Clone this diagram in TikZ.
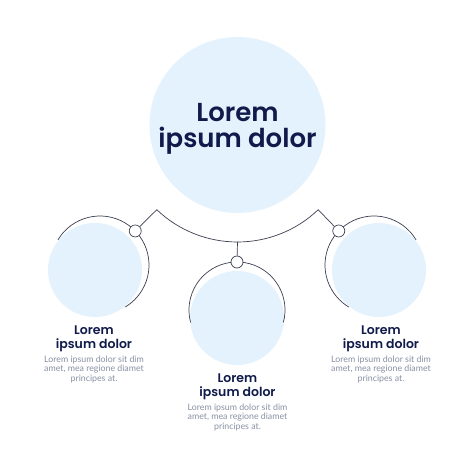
\documentclass[tikz,border=0pt]{standalone}
\usepackage{fontspec}
\setmainfont{Lato}
\newfontfamily\headfont{Poppins}[BoldFont={Poppins SemiBold}]
\definecolor{lightblue}{RGB}{228,242,253}
\definecolor{navy}{RGB}{16,27,75}
\definecolor{linegray}{RGB}{60,63,82}
\definecolor{bodygray}{RGB}{136,145,164}
\tikzset{
  bluefill/.style={circle, fill=lightblue, draw=none, inner sep=0pt},
  outline/.style={draw=linegray, line width=0.7pt},
  junction/.style={circle, draw=linegray, fill=white, line width=0.7pt, minimum size=12pt, inner sep=0pt},
  bigtitle/.style={font=\headfont\bfseries\fontsize{26}{26}\selectfont, text=navy, anchor=base, inner sep=0pt},
  smalltitle/.style={font=\headfont\bfseries\fontsize{12.5}{15}\selectfont, text=navy, anchor=base, inner sep=0pt},
  bodytext/.style={font=\fontsize{8.8}{10}\selectfont, text=bodygray, anchor=base, inner sep=0pt}
}
\newcommand\infoblock[3]{%
  \node[smalltitle] (#1-t1) at (#2,#3) {Lorem};
  \node[smalltitle] (#1-t2) at (#2,#3-14.5) {ipsum dolor};
  \node[bodytext] (#1-b1) at (#2,#3-28) {Lorem ipsum dolor sit dim};
  \node[bodytext] (#1-b2) at (#2,#3-37.5) {amet, mea regione diamet};
  \node[bodytext] (#1-b3) at (#2,#3-47) {principes at.};
}
\begin{document}
\begin{tikzpicture}[x=1pt,y=1pt]
\useasboundingbox[fill=white] (0,0) rectangle (474,474);
% centres
\coordinate (bigc) at (237.5,349);
\coordinate (oL) at (100,209);
\coordinate (oR) at (374,209);
\coordinate (oM) at (237,164);
% filled circles
\node[bluefill, minimum size=176pt] (big) at (bigc) {};
\node[bluefill, minimum size=94pt] (fL) at (95,204) {};
\node[bluefill, minimum size=94pt] (fR) at (379,204) {};
\node[bluefill, minimum size=94pt] (fM) at (237,156) {};
% outline arcs
\draw[outline] ([shift={(149:49)}]oL) arc[start angle=149, end angle=-59, radius=49];
\draw[outline] ([shift={(31:49)}]oR) arc[start angle=31, end angle=239, radius=49];
\draw[outline] ([shift={(-15:48)}]oM) arc[start angle=-15, end angle=195, radius=48];
% junctions
\node[junction] (jL) at ([shift={(44:49)}]oL) {};
\node[junction] (jR) at ([shift={(136:49)}]oR) {};
\node[junction] (jM) at ([shift={(90:48)}]oM) {};
% connector
\coordinate (peakL) at ([shift={(226.4:117)}]bigc);
\coordinate (peakR) at ([shift={(313.6:117)}]bigc);
\coordinate (bottom) at ([shift={(270:117)}]bigc);
\draw[outline] (jL) -- (peakL) arc[start angle=226.4, end angle=313.6, radius=117] -- (jR);
\draw[outline] (bottom) -- (jM);
% titles
\node[bigtitle] (title1) at (237.5,352) {Lorem};
\node[bigtitle] (title2) at (237.5,326) {ipsum dolor};
\infoblock{left}{94}{139.5}
\infoblock{right}{381}{139.5}
\infoblock{mid}{237.5}{91.5}
\end{tikzpicture}
\end{document}
